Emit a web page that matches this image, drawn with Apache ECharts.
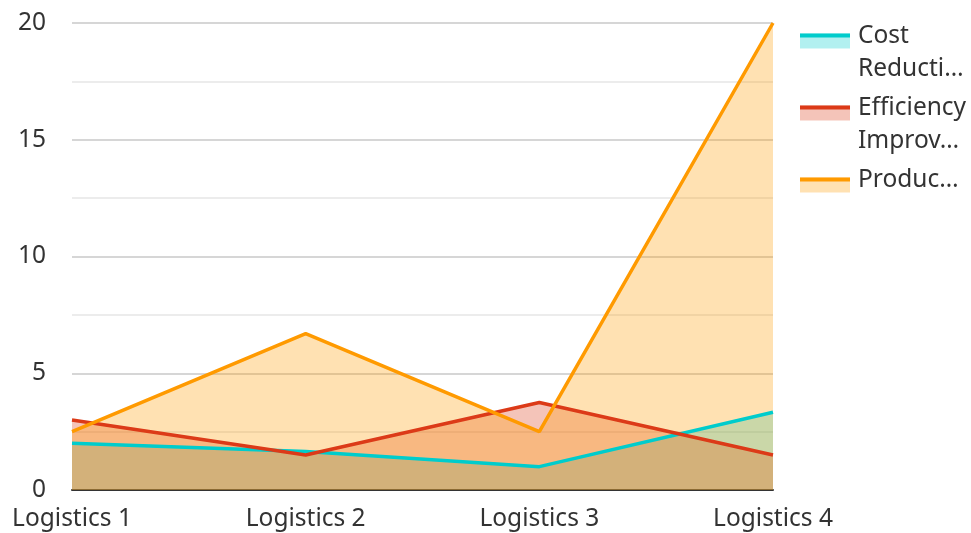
<!DOCTYPE html>
<html>
<head>
<meta charset="utf-8">
<script src="https://cdn.jsdelivr.net/npm/echarts@6/dist/echarts.min.js"></script>
<style>html,body{margin:0;padding:0;background:#fff}#c{width:971px;height:533px}</style>
</head>
<body>
<div id="c"></div>
<script>
var categories = ['Logistics 1', 'Logistics 2', 'Logistics 3', 'Logistics 4'];
var seriesNames = ['Cost Reduction', 'Efficiency Improvement', 'Production Output'];
var legendLines = [['Cost', 'Reducti…'], ['Efficiency', 'Improv…'], ['Produc…']];
var costReduction = [2.0, 1.65, 1.0, 3.33];
var efficiencyImprovement = [3.0, 1.5, 3.75, 1.5];
var productionOutput = [2.5, 6.7, 2.5, 20];
var colors = ['#00cccc', '#dc3a18', '#ff9a00'];

var chart = echarts.init(document.getElementById('c'));
var font = 'Noto Sans';
var fs = 24.5;
var dataSets = [costReduction, efficiencyImprovement, productionOutput];
var legendMap = {};
seriesNames.forEach(function (n, i) {
  var lines = legendLines[i].slice();
  // blank lines keep every item the same height, with the first line aligned to the icon
  lines.unshift('');
  while (lines.length < 3) lines.push('');
  legendMap[n] = lines.join('\n');
});

function makeLegend(isBack) {
  var txtColor = isBack ? 'rgba(0,0,0,0)' : '#333';
  return {
    orient: 'vertical',
    left: 800,
    top: -13,
    itemWidth: 50,
    itemHeight: 24,
    itemGap: -27,
    padding: 0,
    icon: isBack ? 'path://M0,0H50V0H0Z M0,9H50V24H0Z' : 'path://M0,0H50V0H0Z M0,9H50V13H0Z M0,24H50V24H0Z',
    itemStyle: isBack ? { opacity: 0.3 } : {},
    formatter: function (n) { return legendMap[n]; },
    textStyle: { fontSize: fs, lineHeight: 33, color: txtColor, fontFamily: font, padding: [0, 0, 0, 3] }
  };
}

chart.setOption({
  animation: false,
  color: colors,
  textStyle: { fontFamily: font },
  grid: { left: 72, right: 198, top: 23, bottom: 43, containLabel: false },
  legend: [makeLegend(true), makeLegend(false)],
  xAxis: {
    type: 'category',
    data: categories,
    boundaryGap: false,
    axisLine: { lineStyle: { color: '#333', width: 2 } },
    axisTick: { show: false },
    axisLabel: { fontSize: fs, color: '#333', margin: 17, fontFamily: font },
    splitLine: { show: false }
  },
  yAxis: {
    type: 'value',
    min: 0,
    max: 20,
    interval: 5,
    axisLine: { show: false },
    axisTick: { show: false },
    axisLabel: { fontSize: fs, color: '#333', margin: 26, fontFamily: font },
    splitLine: { lineStyle: { color: '#c8c8c8', width: 1.5 } },
    minorTick: { show: false, splitNumber: 2 },
    minorSplitLine: { show: true, lineStyle: { color: '#e6e6e6', width: 1.5 } }
  },
  series: seriesNames.map(function (n, i) {
    return {
      name: n,
      type: 'line',
      data: dataSets[i],
      showSymbol: false,
      symbol: 'none',
      lineStyle: { width: 3.5, color: colors[i] },
      itemStyle: { color: colors[i] },
      areaStyle: { opacity: 0.3, color: colors[i] }
    };
  })
});
</script>
</body>
</html>
